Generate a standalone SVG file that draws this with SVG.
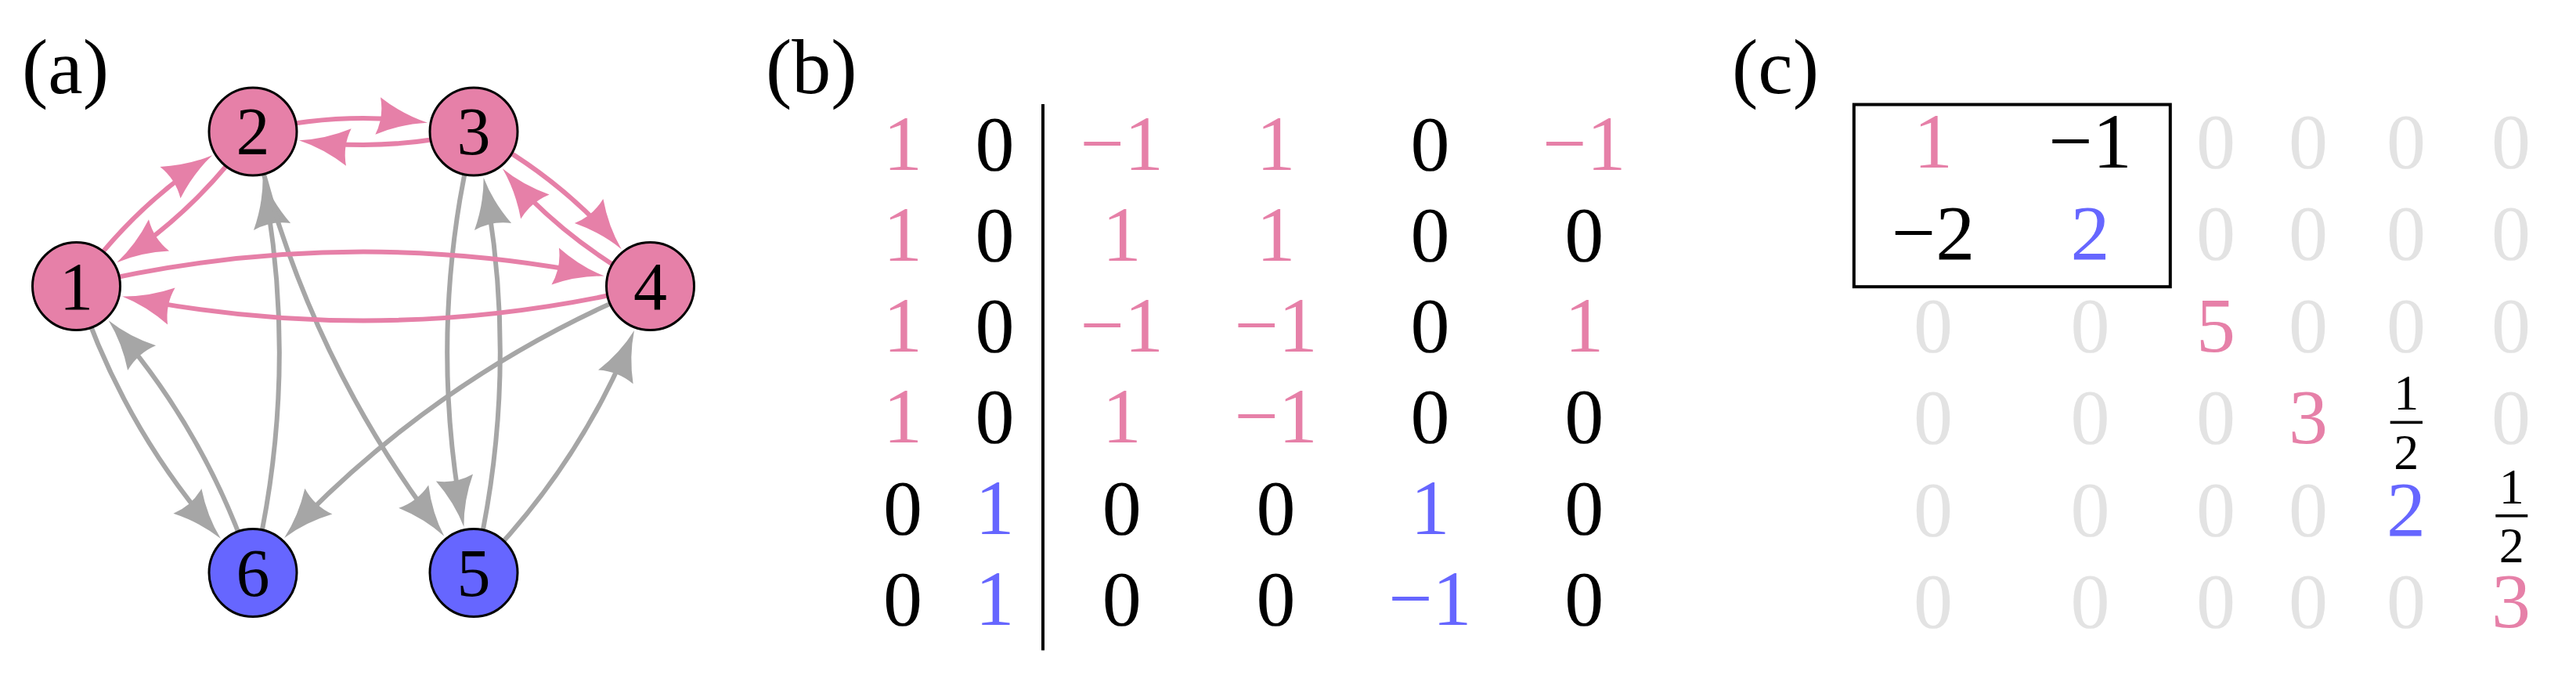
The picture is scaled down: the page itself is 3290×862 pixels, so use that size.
<svg xmlns="http://www.w3.org/2000/svg" width="3290" height="862" viewBox="0 0 3290 862" font-family="'Liberation Serif','Times New Roman',serif">
<style>
text{font-family:"Liberation Serif","Times New Roman",serif}
.lbl{font-size:100px;fill:#000}
.m{font-size:100px;text-anchor:middle}
.f{font-size:64px;text-anchor:middle;fill:#000}
.nl{font-size:86px;text-anchor:middle;fill:#000}
.pk{fill:#E680A8}
.bl{fill:#6666FF}
.gr{fill:#E3E3E3}
.k{fill:#000}
.ep path{fill:none;stroke:#E680A8;stroke-width:6}
.ep use{fill:#E680A8}
.eg path{fill:none;stroke:#A6A6A6;stroke-width:6}
.eg use{fill:#A6A6A6}
.node circle{stroke:#000;stroke-width:3}
.pn{fill:#E680A8}
.bn{fill:#6666FF}
</style>
<defs>
<path id="ah" stroke="none" d="M0,0Q-33,-6 -64,-24Q-56,0 -64,24Q-33,6 0,0Z"/>
</defs>
<rect width="3290" height="862" fill="#fff"/>

<text class="lbl" x="28" y="119">(a)</text>
<text class="lbl" x="978" y="119">(b)</text>
<text class="lbl" x="2212" y="119">(c)</text>

<g id="connectors">
<g class="eg" id="e1-6" transform="translate(97.5,365.5) rotate(58.36)"><path d="M0,0Q165.79,39.79 331.59,18.2"/><use href="#ah" transform="translate(371.14,12.17) rotate(-9.89)"/></g>
<g class="eg" id="e6-1" transform="translate(323,731.5) rotate(-121.64)"><path d="M0,0Q165.79,39.79 331.59,18.2"/><use href="#ah" transform="translate(371.14,12.17) rotate(-9.89)"/></g>
<g class="eg" id="e6-2" transform="translate(323,731.5) rotate(-90)"><path d="M0,0Q232.7,55.85 465.4,19.45"/><use href="#ah" transform="translate(504.84,12.61) rotate(-10.76)"/></g>
<g class="eg" id="e2-5" transform="translate(323,168) rotate(63.42)"><path d="M0,0Q266.07,63.86 532.12,19.86"/><use href="#ah" transform="translate(571.49,12.76) rotate(-11.05)"/></g>
<g class="eg" id="e3-5" transform="translate(605,168) rotate(90)"><path d="M0,0Q232.7,55.85 465.4,19.45"/><use href="#ah" transform="translate(504.84,12.61) rotate(-10.76)"/></g>
<g class="eg" id="e5-3" transform="translate(605,731.5) rotate(-90)"><path d="M0,0Q232.7,55.85 465.4,19.45"/><use href="#ah" transform="translate(504.84,12.61) rotate(-10.76)"/></g>
<g class="eg" id="e5-4" transform="translate(605,731.5) rotate(-58.36)"><path d="M0,0Q165.79,39.79 331.59,18.2"/><use href="#ah" transform="translate(371.14,12.17) rotate(-9.89)"/></g>
<g class="eg" id="e4-6" transform="translate(830.5,365.5) rotate(144.2)"><path d="M0,0Q263.86,63.33 527.71,19.84"/><use href="#ah" transform="translate(567.08,12.75) rotate(-11.03)"/></g>

<g class="ep" id="e1-2" transform="translate(97.5,365.5) rotate(-41.21)"><path d="M0,0Q100.53,-24.13 201.06,-15.89"/><use href="#ah" transform="translate(240.86,-11.36) rotate(8.29)"/></g>
<g class="ep" id="e2-1" transform="translate(323,168) rotate(138.79)"><path d="M0,0Q100.53,-24.13 201.06,-15.89"/><use href="#ah" transform="translate(240.86,-11.36) rotate(8.29)"/></g>
<g class="ep" id="e2-3" transform="translate(323,168)"><path d="M0,0Q91.6,-21.98 183.2,-15.4"/><use href="#ah" transform="translate(223.05,-11.19) rotate(7.95)"/></g>
<g class="ep" id="e3-2" transform="translate(605,168) rotate(180)"><path d="M0,0Q91.6,-21.98 183.2,-15.4"/><use href="#ah" transform="translate(223.05,-11.19) rotate(7.95)"/></g>
<g class="ep" id="e3-4" transform="translate(605,168) rotate(41.21)"><path d="M0,0Q100.53,-24.13 201.06,-15.89"/><use href="#ah" transform="translate(240.86,-11.36) rotate(8.29)"/></g>
<g class="ep" id="e4-3" transform="translate(830.5,365.5) rotate(-138.79)"><path d="M0,0Q100.53,-24.13 201.06,-15.89"/><use href="#ah" transform="translate(240.86,-11.36) rotate(8.29)"/></g>
<g class="ep" id="e1-4" transform="translate(97.5,365.5)"><path d="M0,0Q317.55,-76.21 635.1,-20.36"/><use href="#ah" transform="translate(674.4,-12.94) rotate(11.4)"/></g>
<g class="ep" id="e4-1" transform="translate(830.5,365.5) rotate(180)"><path d="M0,0Q317.55,-76.21 635.1,-20.36"/><use href="#ah" transform="translate(674.4,-12.94) rotate(11.4)"/></g>
</g>

<g id="node1" class="node"><circle class="pn" cx="97.5" cy="365.5" r="56"/><text class="nl" x="97.5" y="394.5">1</text></g>
<g id="node2" class="node"><circle class="pn" cx="323" cy="168" r="56"/><text class="nl" x="323" y="197">2</text></g>
<g id="node3" class="node"><circle class="pn" cx="605" cy="168" r="56"/><text class="nl" x="605" y="197">3</text></g>
<g id="node4" class="node"><circle class="pn" cx="830.5" cy="365.5" r="56"/><text class="nl" x="830.5" y="394.5">4</text></g>
<g id="node5" class="node"><circle class="bn" cx="605" cy="731.5" r="56"/><text class="nl" x="605" y="760.5">5</text></g>
<g id="node6" class="node"><circle class="bn" cx="323" cy="731.5" r="56"/><text class="nl" x="323" y="760.5">6</text></g>

<g id="matrix-b">
<line x1="1332" y1="133" x2="1332" y2="830.5" stroke="#000" stroke-width="4"/>
<text class="m pk" x="1153" y="217">1</text><text class="m k" x="1270.5" y="217">0</text><text class="m pk" x="1432.8" y="217">−1</text><text class="m pk" x="1629.6" y="217">1</text><text class="m k" x="1826.4" y="217">0</text><text class="m pk" x="2023.2" y="217">−1</text>
<text class="m pk" x="1153" y="333">1</text><text class="m k" x="1270.5" y="333">0</text><text class="m pk" x="1432.8" y="333">1</text><text class="m pk" x="1629.6" y="333">1</text><text class="m k" x="1826.4" y="333">0</text><text class="m k" x="2023.2" y="333">0</text>
<text class="m pk" x="1153" y="449">1</text><text class="m k" x="1270.5" y="449">0</text><text class="m pk" x="1432.8" y="449">−1</text><text class="m pk" x="1629.6" y="449">−1</text><text class="m k" x="1826.4" y="449">0</text><text class="m pk" x="2023.2" y="449">1</text>
<text class="m pk" x="1153" y="565">1</text><text class="m k" x="1270.5" y="565">0</text><text class="m pk" x="1432.8" y="565">1</text><text class="m pk" x="1629.6" y="565">−1</text><text class="m k" x="1826.4" y="565">0</text><text class="m k" x="2023.2" y="565">0</text>
<text class="m k" x="1153" y="681.5">0</text><text class="m bl" x="1270.5" y="681.5">1</text><text class="m k" x="1432.8" y="681.5">0</text><text class="m k" x="1629.6" y="681.5">0</text><text class="m bl" x="1826.4" y="681.5">1</text><text class="m k" x="2023.2" y="681.5">0</text>
<text class="m k" x="1153" y="797.5">0</text><text class="m bl" x="1270.5" y="797.5">1</text><text class="m k" x="1432.8" y="797.5">0</text><text class="m k" x="1629.6" y="797.5">0</text><text class="m bl" x="1826.4" y="797.5">−1</text><text class="m k" x="2023.2" y="797.5">0</text>
</g>

<g id="matrix-c">
<rect x="2367.8" y="133.5" width="404" height="232.7" fill="none" stroke="#000" stroke-width="4"/>
<text class="m pk" x="2469" y="213.5">1</text><text class="m k" x="2669.5" y="213.5">−1</text><text class="m gr" x="2830" y="213.5">0</text><text class="m gr" x="2948" y="213.5">0</text><text class="m gr" x="3073" y="213.5">0</text><text class="m gr" x="3207" y="213.5">0</text>
<text class="m k" x="2469" y="331">−2</text><text class="m bl" x="2669.5" y="331">2</text><text class="m gr" x="2830" y="331">0</text><text class="m gr" x="2948" y="331">0</text><text class="m gr" x="3073" y="331">0</text><text class="m gr" x="3207" y="331">0</text>
<text class="m gr" x="2469" y="448.5">0</text><text class="m gr" x="2669.5" y="448.5">0</text><text class="m pk" x="2830" y="448.5">5</text><text class="m gr" x="2948" y="448.5">0</text><text class="m gr" x="3073" y="448.5">0</text><text class="m gr" x="3207" y="448.5">0</text>
<text class="m gr" x="2469" y="566">0</text><text class="m gr" x="2669.5" y="566">0</text><text class="m gr" x="2830" y="566">0</text><text class="m pk" x="2948" y="566">3</text><text class="m gr" x="3207" y="566">0</text>
<text class="f" x="3073.3" y="523.3">1</text><rect x="3052.7" y="537.6" width="41.3" height="3.6" fill="#000"/><text class="f" x="3073.3" y="599.3">2</text>
<text class="m gr" x="2469" y="683.5">0</text><text class="m gr" x="2669.5" y="683.5">0</text><text class="m gr" x="2830" y="683.5">0</text><text class="m gr" x="2948" y="683.5">0</text><text class="m bl" x="3073" y="683.5">2</text>
<text class="f" x="3207.8" y="642.7">1</text><rect x="3187.3" y="656.9" width="41" height="3.6" fill="#000"/><text class="f" x="3207.8" y="718.3">2</text>
<text class="m gr" x="2469" y="801">0</text><text class="m gr" x="2669.5" y="801">0</text><text class="m gr" x="2830" y="801">0</text><text class="m gr" x="2948" y="801">0</text><text class="m gr" x="3073" y="801">0</text><text class="m pk" x="3207" y="801">3</text>
</g>
</svg>
